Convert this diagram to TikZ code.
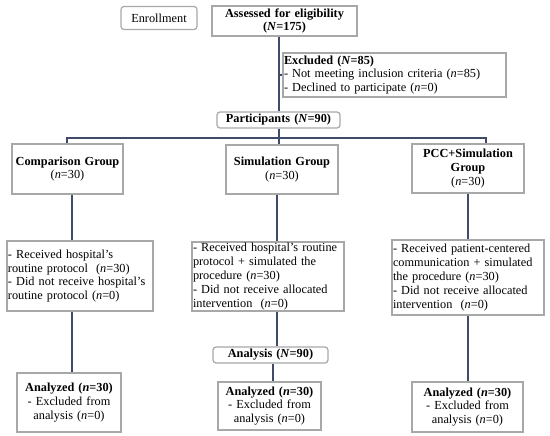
\documentclass[tikz,border=0pt]{standalone}
\usepackage{fontspec}
\setmainfont{Liberation Serif}
\definecolor{boxgray}{HTML}{A8A8A8}
\definecolor{linecol}{HTML}{3F4B68}
\begin{document}
\begin{tikzpicture}[x=1pt,y=-1pt,
  box/.style={draw=boxgray, line width=1.2pt, fill=white, inner xsep=1pt, inner ysep=1pt,
    font=\fontsize{12.3}{13.9}\selectfont},
  rbox/.style={box, rounded corners=3pt},
  conn/.style={draw=linecol, line width=1.3pt}]
\useasboundingbox (0,0) rectangle (550,436);

% nodes
\node[rbox, minimum width=76pt, minimum height=23pt] (enroll) at (159,18) {Enrollment};
\node[box, text width=143pt, minimum height=30pt, align=center] (assess) at (284.5,21)
  {\textbf{Assessed for eligibility}\\\textbf{(\textit{N}=175)}};
\node[box, text width=221pt, minimum height=44pt, align=left] (excl) at (394.5,75)
  {\textbf{Excluded (\textit{N}=85)}\\- Not meeting inclusion criteria (\textit{n}=85)\\- Declined to participate (\textit{n}=0)};
\node[rbox, text width=121pt, minimum height=16pt, align=center] (part) at (278.5,120)
  {\textbf{Participants (\textit{N}=90)}};

\node[box, text width=109pt, minimum height=50pt, align=center] (comp) at (67.5,169)
  {\textbf{Comparison Group}\\(\textit{n}=30)};
\node[box, text width=110pt, minimum height=49pt, align=center] (sim) at (282,169.5)
  {\textbf{Simulation Group}\\(\textit{n}=30)};
\node[box, text width=110pt, minimum height=49pt, align=center] (pcc) at (468,168.5)
  {\textbf{PCC+Simulation}\\\textbf{Group}\\(\textit{n}=30)};

\node[box, text width=144pt, minimum height=70pt, align=left] (r1) at (80,276)
  {- Received hospital’s\\routine protocol~ (\textit{n}=30)\\- Did not receive hospital’s\\routine protocol (\textit{n}=0)};
\node[box, text width=150pt, minimum height=69pt, align=left] (r2) at (268,276.5)
  {- Received hospital’s routine\\protocol + simulated the\\procedure (\textit{n}=30)\\- Did not receive allocated\\intervention~ (\textit{n}=0)};
\node[box, text width=150pt, minimum height=75pt, align=left] (r3) at (468,277.5)
  {- Received patient-centered\\communication + simulated\\the procedure (\textit{n}=30)\\- Did not receive allocated\\intervention~ (\textit{n}=0)};

\node[rbox, text width=113pt, minimum height=16pt, align=center] (analysis) at (270.5,355)
  {\textbf{Analysis (\textit{N}=90)}};

\node[box, text width=102pt, minimum height=59pt, align=center] (a1) at (69,402.5)
  {\textbf{Analyzed (\textit{n}=30)}\\- Excluded from\\analysis (\textit{n}=0)};
\node[box, text width=101pt, minimum height=48pt, align=center] (a2) at (269.5,406)
  {\textbf{Analyzed (\textit{n}=30)}\\- Excluded from\\analysis (\textit{n}=0)};
\node[box, text width=109pt, minimum height=50pt, align=center] (a3) at (467.5,407)
  {\textbf{Analyzed (\textit{n}=30)}\\- Excluded from\\analysis (\textit{n}=0)};

% connectors
\draw[conn] (279,0 |- assess.south) -- (279,0 |- part.north);
\draw[conn] (279,0 |- excl.west) -- (excl.west);
\coordinate (hl) at (279,138);
\draw[conn] (part.south -| hl) -- (hl);
\draw[conn] (67,0 |- comp.north) -- (67,138) -- (486,138) -- (486,0 |- pcc.north);
\draw[conn] (hl) -- (hl |- sim.north);
\draw[conn] (72,0 |- comp.south) -- (72,0 |- r1.north);
\draw[conn] (72,0 |- r1.south) -- (72,0 |- a1.north);
\draw[conn] (277,0 |- sim.south) -- (277,0 |- r2.north);
\draw[conn] (277,0 |- r2.south) -- (277,0 |- analysis.north);
\draw[conn] (273,0 |- analysis.south) -- (273,0 |- a2.north);
\draw[conn] (468,0 |- pcc.south) -- (468,0 |- r3.north);
\draw[conn] (468,0 |- r3.south) -- (468,0 |- a3.north);
\end{tikzpicture}
\end{document}
